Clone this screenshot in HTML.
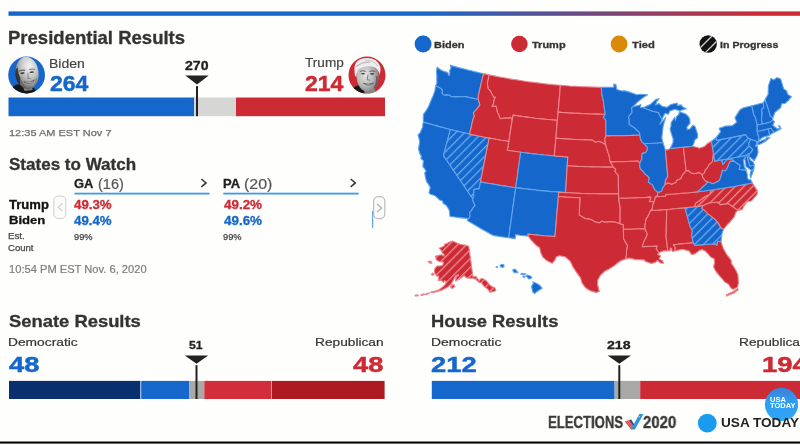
<!DOCTYPE html>
<html lang="en"><head><meta charset="utf-8"><title>Election Results 2020</title>
<style>
html,body{margin:0;padding:0;background:#fff}
#page{position:relative;width:800px;height:445px;overflow:hidden;background:#fefefd;font-family:"Liberation Sans", sans-serif}
#gfx{position:absolute;left:0;top:0}
#soft{position:absolute;left:0;top:0;width:800px;height:445px;filter:blur(0.45px)}
.t{position:absolute;white-space:nowrap;line-height:1;transform-origin:0 0;will-change:transform;-webkit-font-smoothing:antialiased}
.s{stroke-width:1.1}.s.b{stroke:#62a6ee}.s.r{stroke:#ec858c}
</style></head>
<body>
<div id="page"><div id="soft">
<svg id="gfx" width="800" height="445" viewBox="0 0 800 445">
<defs><linearGradient id="tg" x1="0" x2="1" y1="0" y2="0"><stop offset="0" stop-color="#1667cb"/><stop offset="0.52" stop-color="#1667cb"/><stop offset="0.95" stop-color="#cc2b35"/></linearGradient>
<pattern id="hb" width="6.2" height="6.2" patternUnits="userSpaceOnUse" patternTransform="rotate(-45)"><rect width="6.2" height="6.2" fill="#1667cb"/><rect width="6.2" height="1.3" fill="#66aaf0"/></pattern>
<pattern id="hr" width="6.2" height="6.2" patternUnits="userSpaceOnUse" patternTransform="rotate(-45)"><rect width="6.2" height="6.2" fill="#cc2b35"/><rect width="6.2" height="1.3" fill="#f08a90"/></pattern></defs>
<rect x="8.5" y="11.4" width="792" height="4.4" fill="url(#tg)"/>
<rect x="8.5" y="97.5" width="185.7" height="18.7" fill="#1667cb"/>
<rect x="194.2" y="97.5" width="42" height="18.7" fill="#d6d6d4"/>
<rect x="236" y="97.5" width="149" height="18.7" fill="#cc2b35"/>
<path d="M185.3,75.4 h23.4 l-11.7,9.2 z" fill="#222"/><rect x="196.00" y="86.1" width="2.0" height="30.1" fill="#222"/>
<defs><clipPath id="clipb"><circle cx="26.6" cy="75.0" r="18.4"/></clipPath><filter id="blb" x="-20%" y="-20%" width="140%" height="140%"><feGaussianBlur stdDeviation="0.75"/></filter><radialGradient id="gb" cx="0.62" cy="0.3" r="0.75"><stop offset="0" stop-color="#f3f3f3"/><stop offset="0.45" stop-color="#c9c9c9"/><stop offset="0.8" stop-color="#8e8e8e"/><stop offset="1" stop-color="#4e4e4e"/></radialGradient></defs><circle cx="26.6" cy="75.0" r="18.4" fill="#1667cb"/><g clip-path="url(#clipb)"><g filter="url(#blb)" transform="translate(26.6,75.0)"><path d="M-16,20 L-14,12 Q-10,8 -5,10 L7,13 Q10,15 10,20 Z" fill="#161616"/><path d="M-5,8 L5,9 L6,15 L-2,16 Z" fill="#7e7e7e"/><g transform="rotate(-7)"><ellipse cx="0.8" cy="-2.0" rx="11.4" ry="16.2" fill="url(#gb)"/><path d="M-10.6,-6 Q-12.5,3 -8,10 L-6.5,3 Q-8.5,-2 -8,-9 Z" fill="#2e2e2e" opacity="0.9"/><path d="M-7,-4.6 Q-4,-6 -1,-4.8" stroke="#666" stroke-width="1.1" fill="none"/><path d="M3,-4.8 Q6,-6 9,-4.4" stroke="#777" stroke-width="1.1" fill="none"/><ellipse cx="-3.8" cy="-2.4" rx="2.2" ry="0.9" fill="#3a3a3a"/><ellipse cx="5.4" cy="-2.2" rx="2.2" ry="0.9" fill="#444"/><path d="M1.6,-1.5 L1.0,3.6 L3.6,3.8" stroke="#858585" stroke-width="1" fill="none"/><path d="M-3.6,6.4 Q1.6,11.4 7,6.2 Q1.6,8.6 -3.6,6.4 Z" fill="#fafafa" stroke="#4a4a4a" stroke-width="0.7"/><path d="M-6.2,4.6 Q-5.6,9 -2.6,11.6" stroke="#5c5c5c" stroke-width="0.9" fill="none"/><path d="M9.2,4.4 Q9,8 6.6,10.8" stroke="#777" stroke-width="0.8" fill="none"/></g></g></g>
<defs><clipPath id="clipr"><circle cx="367.0" cy="75.1" r="18.5"/></clipPath><filter id="blr" x="-20%" y="-20%" width="140%" height="140%"><feGaussianBlur stdDeviation="0.75"/></filter><radialGradient id="gr" cx="0.4" cy="0.45" r="0.7"><stop offset="0" stop-color="#e6e6e6"/><stop offset="0.5" stop-color="#bcbcbc"/><stop offset="0.85" stop-color="#858585"/><stop offset="1" stop-color="#5a5a5a"/></radialGradient></defs><circle cx="367.0" cy="75.1" r="18.5" fill="#cc2b35"/><g clip-path="url(#clipr)"><g filter="url(#blr)" transform="translate(367.0,75.1)"><path d="M-16,20 L-14,13 Q-10,9 -6,11 L-1,18 L2,20 Z" fill="#151515"/><path d="M-4,10 L7,10 L9,20 L-2,20 Z" fill="#858585"/><ellipse cx="0.6" cy="1.5" rx="11.0" ry="15.0" fill="url(#gr)"/><path d="M-12.4,-3 Q-14,-15 -3,-16.8 Q10,-18.4 13.4,-8 Q14,-3.4 12.4,0 Q11.4,-7.4 5,-8.6 Q-3,-9.6 -8.6,-5.6 Q-10.6,-2.6 -10.8,2.4 Q-12.8,0.6 -12.4,-3 Z" fill="#ededed"/><path d="M-11,-8.4 Q-5,-13.4 3,-13" stroke="#b8b8b8" stroke-width="1.3" fill="none"/><path d="M-2,-15 Q6,-15.6 11,-9" stroke="#c6c6c6" stroke-width="1" fill="none"/><path d="M-7,-3.6 Q-4,-5 -1.2,-3.6" stroke="#6e6e6e" stroke-width="1.1" fill="none"/><path d="M2.4,-3.6 Q5.4,-5 8.4,-3.2" stroke="#6e6e6e" stroke-width="1.1" fill="none"/><ellipse cx="-4.0" cy="-1.4" rx="2.1" ry="0.8" fill="#444"/><ellipse cx="5.2" cy="-1.2" rx="2.1" ry="0.8" fill="#444"/><path d="M1.0,-0.4 L0.2,4.8 L3.2,5.0" stroke="#808080" stroke-width="1" fill="none"/><path d="M-3.6,8.2 Q1.2,12 6.4,8 Q1.2,10 -3.6,8.2 Z" fill="#f6f6f6" stroke="#4c4c4c" stroke-width="0.7"/><path d="M9.6,1 Q11,7 7.4,13" stroke="#606060" stroke-width="1.8" fill="none"/></g></g>
<rect x="74.5" y="192.7" width="135" height="1.8" fill="#3d9be3"/>
<rect x="223.4" y="192.7" width="135.3" height="1.8" fill="#3d9be3"/>
<path d="M201.4,179.0 l4.6,3.9 l-4.6,3.9" fill="none" stroke="#3a3a3a" stroke-width="1.6"/>
<path d="M350.7,179.0 l4.6,3.9 l-4.6,3.9" fill="none" stroke="#3a3a3a" stroke-width="1.6"/>
<rect x="53.8" y="196.0" width="12" height="22.6" rx="4.5" fill="#fbfbfb" stroke="#cfcfcf" stroke-width="1"/>
<path d="M62.3,203.5 l-4.2,3.8 l4.2,3.8" fill="none" stroke="#d2d2d2" stroke-width="1.2"/>
<rect x="372.2" y="211" width="1" height="17" fill="#4a8ad8"/>
<rect x="373.6" y="196.6" width="11.2" height="22.0" rx="4.5" fill="#fbfbfb" stroke="#bdbdbd" stroke-width="1.2"/>
<path d="M377.0,204.0 l4.6,4.0 l-4.6,4.0" fill="none" stroke="#b4b4b4" stroke-width="1.3"/>
<rect x="9" y="380.9" width="131.3" height="18.1" fill="#0a2f6e"/>
<rect x="140.2" y="380.9" width="1.1" height="18.1" fill="#8fb2e4"/>
<rect x="141.2" y="380.9" width="48" height="18.1" fill="#1667cb"/>
<rect x="189.2" y="380.9" width="15.1" height="18.1" fill="#a9a9a7"/>
<rect x="204.3" y="380.9" width="66.8" height="18.1" fill="#d22d3a"/>
<rect x="271.0" y="380.9" width="1.1" height="18.1" fill="#ee9aa0"/>
<rect x="272" y="380.9" width="112.6" height="18.1" fill="#ad1a22"/>
<path d="M184.8,355.4 h23.4 l-11.7,8.3 z" fill="#222"/><rect x="195.50" y="365.2" width="2.0" height="33.8" fill="#222"/>
<rect x="431.8" y="380.9" width="182.8" height="18.1" fill="#1667cb"/>
<rect x="614.6" y="380.9" width="25.6" height="18.1" fill="#a9a9a7"/>
<rect x="640.2" y="380.9" width="160" height="18.1" fill="#cc2b35"/>
<path d="M607.6,355.4 h23.4 l-11.7,8.3 z" fill="#222"/><rect x="618.30" y="365.2" width="2.0" height="33.8" fill="#222"/>
<circle cx="423.1" cy="44" r="8.5" fill="#1667cb"/>
<circle cx="519.4" cy="44" r="8.3" fill="#cc2b35"/>
<circle cx="619.1" cy="44" r="8.4" fill="#d98a06"/>
<defs><clipPath id="ipc"><circle cx="708.2" cy="44" r="8.7"/></clipPath></defs><circle cx="708.2" cy="44" r="8.7" fill="#111"/><g clip-path="url(#ipc)" stroke="#d0d0d0" stroke-width="1.3"><path d="M698,50 l14,-14 M704,54 l14,-14"/></g>
<g id="map" stroke-linejoin="round"><path class="s b" d="M450.2,65.3L453.2,66.1L456.2,66.9L459.2,67.7L462.2,68.5L465.3,69.3L468.3,70.1L471.3,70.8L474.4,71.6L477.4,72.3L480.4,73.0L483.5,73.6L482.5,78.1L481.4,82.5L480.4,86.9L479.4,91.3L478.3,95.8L478.3,99.5L475.1,98.8L471.9,98.1L468.8,97.4L465.6,96.6L463.5,96.8L459.3,96.7L455.7,96.9L451.3,96.7L449.5,95.2L447.1,94.9L444.4,95.2L441.9,93.6L442.3,90.0L440.5,88.4L438.3,87.0L435.6,86.1L436.9,83.0L436.8,80.2L436.8,76.0L436.4,71.3L437.2,67.1L440.4,69.7L444.0,71.4L447.9,72.6L448.3,74.8L449.1,75.5L449.9,73.4L449.6,70.6L451.1,67.8L450.2,65.3Z" fill="#1667cb"/>
<path class="s b" d="M435.6,86.1L438.3,87.0L440.5,88.4L442.3,90.0L441.9,93.6L444.4,95.2L447.1,94.9L449.5,95.2L451.3,96.7L455.7,96.9L459.3,96.7L463.5,96.8L465.6,96.6L468.8,97.4L471.9,98.1L475.1,98.8L478.3,99.5L479.1,102.0L480.0,104.9L477.8,107.6L476.4,109.6L473.4,112.6L473.9,114.8L474.4,116.0L473.3,118.3L472.0,123.5L470.8,128.8L469.6,134.1L465.8,133.2L461.9,132.3L458.1,131.4L454.2,130.5L450.4,129.5L447.0,128.7L443.6,127.8L440.2,126.9L436.8,125.9L433.4,125.0L430.1,124.0L426.7,123.1L423.4,122.1L423.2,118.3L423.4,114.3L426.3,110.4L428.8,106.0L431.1,100.2L433.3,95.3L434.9,90.7L435.6,86.1Z" fill="#1667cb"/>
<path class="s b" d="M423.4,122.1L426.7,123.1L430.1,124.0L433.4,125.0L436.8,125.9L440.2,126.9L443.6,127.8L447.0,128.7L450.4,129.5L449.2,133.8L448.1,138.2L447.0,142.5L445.8,146.8L444.7,151.2L443.5,155.5L446.1,159.4L448.7,163.3L451.4,167.2L454.1,171.1L456.8,175.0L459.9,179.8L463.1,184.5L466.3,189.3L469.5,194.0L472.8,198.7L472.8,200.1L473.6,202.5L475.2,205.5L473.7,206.9L471.1,211.1L469.5,212.6L470.2,216.1L468.9,218.6L468.1,218.5L463.6,218.1L459.1,217.6L454.5,217.0L450.0,216.5L449.6,213.5L449.3,210.2L447.4,207.0L445.3,204.4L443.2,203.7L442.7,201.1L439.5,199.9L438.0,198.4L435.2,195.8L430.0,194.0L429.0,192.6L430.2,187.6L429.0,185.0L426.5,181.6L425.3,176.6L424.7,172.7L426.1,171.3L425.1,169.5L422.9,166.7L423.0,163.9L423.5,160.8L420.9,158.6L421.3,156.0L419.6,153.1L418.6,149.1L419.0,145.5L419.7,142.0L419.0,138.5L418.0,135.0L420.1,132.8L421.2,130.3L422.7,127.0L422.8,124.2L423.4,122.1Z" fill="#1667cb"/>
<path class="s b" d="M450.4,129.5L454.2,130.5L458.1,131.4L461.9,132.3L465.8,133.2L469.6,134.1L473.5,134.9L477.4,135.8L481.3,136.5L485.2,137.3L489.1,138.1L488.3,142.5L487.4,146.8L486.5,151.2L485.7,155.6L484.8,160.0L483.9,164.4L483.1,168.8L482.2,173.2L481.3,177.6L480.5,181.9L479.1,189.0L476.5,188.9L473.9,189.6L473.8,193.4L473.6,197.0L472.8,198.7L469.5,194.0L466.3,189.3L463.1,184.5L459.9,179.8L456.8,175.0L454.1,171.1L451.4,167.2L448.7,163.3L446.1,159.4L443.5,155.5L444.7,151.2L445.8,146.8L447.0,142.5L448.1,138.2L449.2,133.8L450.4,129.5Z" fill="url(#hb)"/>
<path class="s r" d="M483.5,73.6L489.2,74.9L488.3,79.2L487.4,83.5L488.3,88.6L490.5,90.8L492.0,94.1L493.7,97.1L495.3,97.1L494.0,100.1L493.6,103.6L492.1,106.4L496.0,106.0L496.6,107.8L497.6,112.7L498.8,114.4L499.9,117.9L501.0,118.8L504.5,117.7L509.6,118.1L510.0,117.2L511.1,117.8L512.3,119.7L511.4,125.2L510.5,130.6L509.7,136.0L508.8,141.5L504.8,140.8L500.9,140.2L497.0,139.5L493.1,138.8L489.1,138.1L485.2,137.3L481.3,136.5L477.4,135.8L473.5,134.9L469.6,134.1L470.8,128.8L472.0,123.5L473.3,118.3L474.4,116.0L473.9,114.8L473.4,112.6L476.4,109.6L477.8,107.6L480.0,104.9L479.1,102.0L478.3,99.5L478.3,95.8L479.4,91.3L480.4,86.9L481.4,82.5L482.5,78.1L483.5,73.6Z" fill="#cc2b35"/>
<path class="s r" d="M489.2,74.9L492.2,75.5L495.2,76.1L498.1,76.7L501.1,77.2L504.1,77.8L507.0,78.3L510.0,78.9L513.0,79.4L516.0,79.8L519.0,80.3L522.0,80.8L525.0,81.2L528.2,81.7L531.4,82.1L534.6,82.5L537.8,82.9L541.1,83.3L544.3,83.7L547.5,84.1L550.7,84.4L554.0,84.7L557.2,85.0L560.4,85.3L560.0,89.7L559.7,94.2L559.3,98.7L558.9,103.1L558.5,107.6L558.1,112.1L557.4,120.4L554.2,120.1L551.0,119.8L547.9,119.5L544.7,119.2L541.5,118.9L538.3,118.5L535.2,118.2L532.0,117.8L528.8,117.4L525.7,116.9L522.5,116.5L519.4,116.1L516.2,115.6L513.1,115.1L512.3,119.7L511.1,117.8L510.0,117.2L509.6,118.1L504.5,117.7L501.0,118.8L499.9,117.9L498.8,114.4L497.6,112.7L496.6,107.8L496.0,106.0L492.1,106.4L493.6,103.6L494.0,100.1L495.3,97.1L493.7,97.1L492.0,94.1L490.5,90.8L488.3,88.6L487.4,83.5L488.3,79.2L489.2,74.9Z" fill="#cc2b35"/>
<path class="s r" d="M512.3,119.7L513.1,115.1L516.2,115.6L519.4,116.1L522.5,116.5L525.7,116.9L528.8,117.4L532.0,117.8L535.2,118.2L538.3,118.5L541.5,118.9L544.7,119.2L547.9,119.5L551.0,119.8L554.2,120.1L557.4,120.4L557.0,124.8L556.6,129.3L556.2,133.7L555.9,138.1L555.5,142.6L555.1,147.0L554.7,151.4L554.3,155.9L550.9,155.6L547.6,155.3L544.2,155.0L540.8,154.6L537.5,154.3L534.1,153.9L530.8,153.5L527.4,153.1L524.1,152.7L520.7,152.2L517.4,151.8L514.0,151.3L510.7,150.8L507.3,150.3L508.1,145.9L508.8,141.5L509.7,136.0L510.5,130.6L511.4,125.2L512.3,119.7Z" fill="#cc2b35"/>
<path class="s r" d="M489.1,138.1L493.1,138.8L497.0,139.5L500.9,140.2L504.8,140.8L508.8,141.5L508.1,145.9L507.3,150.3L510.7,150.8L514.0,151.3L517.4,151.8L520.7,152.2L520.1,156.6L519.5,161.1L518.8,165.5L518.2,169.9L517.6,174.4L517.0,178.8L516.3,183.2L515.7,187.7L512.2,187.2L508.6,186.7L505.1,186.1L501.6,185.6L498.1,185.0L494.5,184.4L491.0,183.8L487.5,183.2L484.0,182.6L480.5,181.9L481.3,177.6L482.2,173.2L483.1,168.8L483.9,164.4L484.8,160.0L485.7,155.6L486.5,151.2L487.4,146.8L488.3,142.5L489.1,138.1Z" fill="#cc2b35"/>
<path class="s b" d="M520.7,152.2L524.1,152.7L527.4,153.1L530.8,153.5L534.1,153.9L537.5,154.3L540.8,154.6L544.2,155.0L547.6,155.3L550.9,155.6L554.3,155.9L557.7,156.2L561.1,156.4L564.4,156.7L567.8,156.9L567.5,161.3L567.2,165.8L566.9,170.3L566.7,174.7L566.4,179.2L566.1,183.6L565.8,188.1L565.6,192.6L558.7,192.1L555.1,191.8L551.5,191.6L547.9,191.2L544.3,190.9L540.8,190.6L537.2,190.2L533.6,189.8L530.0,189.4L526.4,189.0L522.9,188.6L519.3,188.1L515.7,187.7L516.3,183.2L517.0,178.8L517.6,174.4L518.2,169.9L518.8,165.5L519.5,161.1L520.1,156.6L520.7,152.2Z" fill="#1667cb"/>
<path class="s b" d="M480.5,181.9L484.0,182.6L487.5,183.2L491.0,183.8L494.5,184.4L498.1,185.0L501.6,185.6L505.1,186.1L508.6,186.7L512.2,187.2L515.7,187.7L515.1,192.2L514.4,196.8L513.8,201.3L513.1,205.9L512.5,210.5L511.9,215.0L511.2,219.6L510.6,224.1L509.9,228.7L509.3,233.2L508.7,237.8L504.8,237.2L501.0,236.7L497.1,236.1L493.3,235.5L489.5,233.4L485.7,231.3L481.9,229.2L478.2,227.0L474.4,224.8L470.7,222.6L467.1,220.4L468.1,218.5L468.9,218.6L470.2,216.1L469.5,212.6L471.1,211.1L473.7,206.9L475.2,205.5L473.6,202.5L472.8,200.1L472.8,198.7L473.6,197.0L473.8,193.4L473.9,189.6L476.5,188.9L479.1,189.0L480.5,181.9Z" fill="#1667cb"/>
<path class="s b" d="M515.7,187.7L519.3,188.1L522.9,188.6L526.4,189.0L530.0,189.4L533.6,189.8L537.2,190.2L540.8,190.6L544.3,190.9L547.9,191.2L551.5,191.6L555.1,191.8L558.7,192.1L558.4,196.6L558.0,201.0L557.6,205.5L557.2,209.9L556.8,214.4L556.4,218.8L556.1,223.3L555.7,227.7L555.3,232.2L554.9,236.6L551.0,236.3L547.2,236.0L543.3,235.7L539.4,235.3L535.6,234.9L531.7,234.5L527.9,234.1L528.3,236.1L524.1,235.7L519.8,235.2L515.6,234.6L515.1,238.6L508.7,237.8L509.3,233.2L509.9,228.7L510.6,224.1L511.2,219.6L511.9,215.0L512.5,210.5L513.1,205.9L513.8,201.3L514.4,196.8L515.1,192.2L515.7,187.7Z" fill="#1667cb"/>
<path class="s r" d="M560.4,85.3L563.5,85.5L566.5,85.7L569.5,86.0L572.6,86.2L575.6,86.3L578.6,86.5L581.7,86.7L585.0,86.8L588.2,86.9L591.5,87.0L594.8,87.1L598.0,87.2L601.3,87.2L601.8,94.2L602.4,96.7L603.5,101.3L603.9,106.0L604.9,111.3L605.2,114.2L601.8,114.2L598.4,114.1L595.1,114.1L591.7,114.0L588.3,113.9L585.0,113.7L581.6,113.6L578.3,113.4L574.9,113.3L571.5,113.1L568.2,112.9L564.8,112.6L561.5,112.4L558.1,112.1L558.5,107.6L558.9,103.1L559.3,98.7L559.7,94.2L560.0,89.7L560.4,85.3Z" fill="#cc2b35"/>
<path class="s r" d="M558.1,112.1L561.5,112.4L564.8,112.6L568.2,112.9L571.5,113.1L574.9,113.3L578.3,113.4L581.6,113.6L585.0,113.7L588.3,113.9L591.7,114.0L595.1,114.1L598.4,114.1L601.8,114.2L605.2,114.2L603.3,117.2L605.8,119.9L605.8,125.2L605.8,130.5L605.8,135.9L604.8,139.4L605.7,144.9L604.1,143.9L602.4,142.8L599.5,141.4L595.5,142.2L592.3,140.1L588.9,140.0L585.6,139.9L582.3,139.8L579.0,139.6L575.7,139.5L572.4,139.3L569.1,139.1L565.8,138.9L562.5,138.6L559.2,138.4L555.9,138.1L556.2,133.7L556.6,129.3L557.0,124.8L557.4,120.4L558.1,112.1Z" fill="#cc2b35"/>
<path class="s r" d="M555.9,138.1L559.2,138.4L562.5,138.6L565.8,138.9L569.1,139.1L572.4,139.3L575.7,139.5L579.0,139.6L582.3,139.8L585.6,139.9L588.9,140.0L592.3,140.1L595.5,142.2L599.5,141.4L602.4,142.8L604.1,143.9L605.7,144.9L606.7,148.3L608.0,152.4L609.2,155.8L609.7,159.9L610.3,161.9L612.5,165.3L613.4,167.1L609.9,167.1L606.3,167.1L602.8,167.1L599.2,167.0L595.6,167.0L592.1,166.9L588.5,166.8L585.0,166.7L581.4,166.5L577.9,166.4L574.3,166.2L570.8,166.0L567.2,165.8L567.5,161.3L567.8,156.9L564.4,156.7L561.1,156.4L557.7,156.2L554.3,155.9L554.7,151.4L555.1,147.0L555.5,142.6L555.9,138.1Z" fill="#cc2b35"/>
<path class="s r" d="M567.2,165.8L570.8,166.0L574.3,166.2L577.9,166.4L581.4,166.5L585.0,166.7L588.5,166.8L592.1,166.9L595.6,167.0L599.2,167.0L602.8,167.1L606.3,167.1L609.9,167.1L613.4,167.1L615.9,169.3L614.9,171.1L616.3,173.3L618.3,175.0L618.4,179.7L618.4,184.4L618.5,189.1L618.6,193.8L614.8,193.9L611.0,193.9L607.2,193.9L603.4,193.9L599.6,193.9L595.8,193.8L592.0,193.7L588.3,193.6L584.5,193.5L580.7,193.4L576.9,193.2L573.1,193.0L569.3,192.8L565.6,192.6L565.8,188.1L566.1,183.6L566.4,179.2L566.7,174.7L566.9,170.3L567.2,165.8Z" fill="#cc2b35"/>
<path class="s r" d="M565.6,192.6L569.3,192.8L573.1,193.0L576.9,193.2L580.7,193.4L584.5,193.5L588.3,193.6L592.0,193.7L595.8,193.8L599.6,193.9L603.4,193.9L607.2,193.9L611.0,193.9L614.8,193.9L618.6,193.8L618.6,198.3L619.4,203.3L620.2,208.2L620.1,213.4L620.1,218.6L620.0,223.8L613.9,221.8L609.4,221.9L604.2,222.2L602.0,221.1L599.7,222.9L594.2,221.7L593.1,220.6L589.4,219.1L585.0,218.5L582.1,216.8L579.2,215.1L579.4,209.3L579.7,203.6L579.9,197.8L576.3,197.6L572.7,197.5L569.1,197.3L565.5,197.1L562.0,196.8L558.4,196.6L558.7,192.1L565.6,192.6Z" fill="#cc2b35"/>
<path class="s r" d="M558.4,196.6L562.0,196.8L565.5,197.1L569.1,197.3L572.7,197.5L576.3,197.6L579.9,197.8L579.7,203.6L579.4,209.3L579.2,215.1L582.1,216.8L585.0,218.5L589.4,219.1L593.1,220.6L594.2,221.7L599.7,222.9L602.0,221.1L604.2,222.2L609.4,221.9L613.9,221.8L620.0,223.8L623.3,224.6L623.4,229.3L623.5,233.9L623.6,238.4L625.4,241.9L627.6,245.6L626.5,250.8L626.5,255.2L625.6,258.9L621.3,260.5L618.1,262.5L614.2,265.8L608.7,269.2L605.1,270.9L600.3,275.5L597.8,280.1L597.5,284.5L599.3,291.6L596.4,292.6L590.3,290.8L585.8,288.0L582.2,283.3L580.5,277.9L576.0,271.6L573.0,267.0L570.1,261.1L565.2,256.8L559.4,255.8L556.4,256.8L554.8,260.2L552.2,263.3L548.0,261.2L545.7,259.7L543.0,257.4L540.8,252.8L539.7,247.8L536.1,245.3L530.5,239.3L528.3,236.1L527.9,234.1L531.7,234.5L535.6,234.9L539.4,235.3L543.3,235.7L547.2,236.0L551.0,236.3L554.9,236.6L555.3,232.2L555.7,227.7L556.1,223.3L556.4,218.8L556.8,214.4L557.2,209.9L557.6,205.5L558.0,201.0L558.4,196.6Z" fill="#cc2b35"/>
<path class="s b" d="M601.3,87.2L604.4,87.3L607.5,87.3L610.7,87.3L613.8,87.3L613.8,83.9L615.9,84.6L616.8,89.4L622.0,91.1L624.4,90.6L629.9,92.2L633.3,93.5L636.7,94.8L640.6,94.3L644.2,94.5L647.7,94.8L643.6,97.2L640.6,99.6L637.7,101.9L632.9,106.8L631.8,107.4L632.0,112.6L628.4,116.9L629.3,119.5L629.2,124.4L632.5,126.5L635.1,128.2L636.8,130.3L639.5,132.4L639.9,135.1L636.5,135.3L633.0,135.4L629.6,135.5L626.2,135.6L622.8,135.7L619.4,135.8L616.0,135.8L612.6,135.8L609.2,135.9L605.8,135.9L605.8,130.5L605.8,125.2L605.8,119.9L603.3,117.2L605.2,114.2L604.9,111.3L603.9,106.0L603.5,101.3L602.4,96.7L601.8,94.2L601.3,87.2Z" fill="#1667cb"/>
<path class="s r" d="M605.8,135.9L609.2,135.9L612.6,135.8L616.0,135.8L619.4,135.8L622.8,135.7L626.2,135.6L629.6,135.5L633.0,135.4L636.5,135.3L639.9,135.1L640.5,139.1L642.3,142.1L644.1,143.7L647.4,147.2L647.6,149.4L645.6,152.6L642.0,153.6L641.9,159.1L639.9,163.0L637.7,161.0L634.3,161.2L630.9,161.3L627.4,161.5L624.0,161.6L620.6,161.7L617.1,161.8L613.7,161.9L610.3,161.9L609.7,159.9L609.2,155.8L608.0,152.4L606.7,148.3L605.7,144.9L604.8,139.4L605.8,135.9Z" fill="#cc2b35"/>
<path class="s r" d="M610.3,161.9L613.7,161.9L617.1,161.8L620.6,161.7L624.0,161.6L627.4,161.5L630.9,161.3L634.3,161.2L637.7,161.0L639.9,163.0L639.9,167.0L640.6,169.0L642.9,171.1L645.5,174.6L647.3,175.4L649.3,178.1L648.4,182.0L651.0,183.9L652.3,184.5L654.8,189.7L657.8,192.4L657.5,195.8L655.4,196.8L654.9,199.1L654.3,201.4L649.4,201.7L650.8,197.1L646.7,197.4L642.7,197.6L638.7,197.7L634.7,197.9L630.7,198.0L626.7,198.2L622.6,198.3L618.6,198.3L618.6,193.8L618.5,189.1L618.4,184.4L618.4,179.7L618.3,175.0L616.3,173.3L614.9,171.1L615.9,169.3L613.4,167.1L612.5,165.3L610.3,161.9Z" fill="#cc2b35"/>
<path class="s r" d="M618.6,198.3L622.6,198.3L626.7,198.2L630.7,198.0L634.7,197.9L638.7,197.7L642.7,197.6L646.7,197.4L650.8,197.1L649.4,201.7L654.3,201.4L652.7,205.5L652.1,209.3L650.5,210.6L648.7,215.0L646.2,218.9L645.3,223.4L645.0,225.2L645.0,228.7L640.7,228.9L636.4,229.0L632.1,229.2L627.8,229.3L623.4,229.3L623.3,224.6L620.0,223.8L620.1,218.6L620.1,213.4L620.2,208.2L619.4,203.3L618.6,198.3Z" fill="#cc2b35"/>
<path class="s r" d="M623.4,229.3L627.8,229.3L632.1,229.2L636.4,229.0L640.7,228.9L645.0,228.7L647.4,234.4L646.0,237.6L643.8,241.7L642.4,246.7L647.3,246.4L652.2,246.2L657.1,245.9L656.3,249.0L659.2,253.0L657.5,254.3L660.7,255.9L659.0,259.1L662.2,260.6L663.6,263.2L660.8,263.0L657.1,260.5L656.0,261.9L651.4,263.5L645.7,261.6L644.1,259.9L640.1,259.7L635.4,259.6L629.9,258.1L625.6,258.9L626.5,255.2L626.5,250.8L627.6,245.6L625.4,241.9L623.6,238.4L623.5,233.9L623.4,229.3Z" fill="#cc2b35"/>
<path class="s r" d="M665.9,209.5L662.0,209.8L658.2,210.1L654.3,210.3L650.5,210.6L648.7,215.0L646.2,218.9L645.3,223.4L645.0,225.2L645.0,228.7L647.4,234.4L646.0,237.6L643.8,241.7L642.4,246.7L647.3,246.4L652.2,246.2L657.1,245.9L656.3,249.0L659.2,253.0L660.4,251.9L663.9,250.8L667.8,250.9L667.2,246.3L666.7,241.8L666.1,237.2L666.2,232.7L666.3,228.3L666.4,223.8L666.5,219.3L666.6,214.8L666.7,210.3L665.9,209.5Z" fill="#cc2b35"/>
<path class="s r" d="M665.9,209.5L669.7,209.2L673.5,208.8L677.3,208.5L681.1,208.1L684.9,207.7L686.2,212.4L687.5,217.0L688.8,221.6L690.1,226.3L692.5,231.1L691.6,235.7L693.4,242.6L689.4,243.1L685.5,243.5L681.5,243.9L677.5,244.3L673.5,244.6L675.3,247.6L674.7,251.0L672.1,251.4L671.5,248.4L670.3,248.0L670.1,250.7L667.8,250.9L667.2,246.3L666.7,241.8L666.1,237.2L666.2,232.7L666.3,228.3L666.4,223.8L666.5,219.3L666.6,214.8L666.7,210.3L665.9,209.5Z" fill="#cc2b35"/>
<path class="s r" d="M674.7,251.0L675.3,247.6L673.5,244.6L677.5,244.3L681.5,243.9L685.5,243.5L689.4,243.1L693.4,242.6L694.8,245.2L698.9,244.9L703.1,244.6L707.2,244.3L711.3,244.0L715.4,243.7L716.9,245.3L717.4,241.3L721.0,241.6L722.1,245.1L723.3,248.5L726.6,254.3L731.2,260.3L731.3,263.4L733.9,267.0L736.3,271.1L737.9,274.8L738.5,283.0L737.4,287.3L733.1,289.4L730.8,287.9L728.6,284.3L724.4,281.8L722.4,279.0L719.9,276.3L716.9,272.7L714.9,269.8L713.6,266.9L714.6,262.3L714.1,258.8L710.6,257.0L707.3,253.0L704.6,250.7L702.1,249.6L699.5,250.4L694.8,253.9L691.7,254.6L688.9,250.9L682.5,249.3L677.1,250.4L674.7,251.0ZM737.6,288.6L733.5,291.5L726.4,294.8L726.6,296.1L733.7,293.1L738.2,289.9Z" fill="#cc2b35"/>
<path class="s b" d="M684.9,207.7L689.5,207.2L694.2,206.7L698.6,206.1L703.0,205.5L701.6,208.4L704.1,209.9L708.0,213.9L713.3,217.9L717.5,221.9L721.2,228.1L723.5,229.3L722.0,233.4L721.5,237.1L721.0,241.6L717.4,241.3L716.9,245.3L715.4,243.7L711.3,244.0L707.2,244.3L703.1,244.6L698.9,244.9L694.8,245.2L693.4,242.6L691.6,235.7L692.5,231.1L690.1,226.3L688.8,221.6L687.5,217.0L686.2,212.4L684.9,207.7Z" fill="url(#hb)"/>
<path class="s r" d="M703.0,205.5L708.6,202.9L713.2,202.5L717.7,202.0L718.0,202.9L718.7,202.3L720.2,204.6L724.2,204.1L728.3,203.5L733.1,206.9L737.9,210.3L735.7,212.6L734.2,217.0L729.8,222.2L726.2,226.0L724.6,228.0L723.5,229.3L721.2,228.1L717.5,221.9L713.3,217.9L708.0,213.9L704.1,209.9L701.6,208.4L703.0,205.5Z" fill="#cc2b35"/>
<path class="s r" d="M711.2,190.0L715.0,189.5L718.7,188.9L722.5,188.3L726.2,187.7L730.0,187.1L733.7,186.5L737.4,185.8L741.2,185.1L744.9,184.4L748.6,183.7L752.3,183.0L757.2,190.6L757.4,194.0L754.4,197.5L751.3,201.0L747.2,201.6L743.6,206.6L742.3,209.6L737.9,210.3L733.1,206.9L728.3,203.5L724.2,204.1L720.2,204.6L718.7,202.3L718.0,202.9L717.7,202.0L713.2,202.5L708.6,202.9L703.0,205.5L698.6,206.1L694.2,206.7L696.1,202.8L699.5,200.8L702.1,198.7L705.4,196.2L709.6,194.5L711.2,190.0Z" fill="url(#hr)"/>
<path class="s r" d="M655.4,196.8L660.6,196.5L665.7,196.1L665.5,194.5L669.3,194.2L673.0,194.0L676.8,193.7L680.8,193.4L684.9,193.0L688.9,192.7L692.9,192.3L697.0,191.9L700.5,191.4L704.1,191.0L707.7,190.5L711.2,190.0L709.6,194.5L705.4,196.2L702.1,198.7L699.5,200.8L696.1,202.8L694.2,206.7L689.5,207.2L684.9,207.7L681.1,208.1L677.3,208.5L673.5,208.8L669.7,209.2L665.9,209.5L662.0,209.8L658.2,210.1L654.3,210.3L650.5,210.6L652.1,209.3L652.7,205.5L654.3,201.4L654.9,199.1L655.4,196.8Z" fill="#cc2b35"/>
<path class="s r" d="M657.8,192.4L661.5,191.3L662.3,188.3L664.3,185.4L665.0,184.4L668.1,182.7L671.5,184.2L675.7,182.6L676.8,180.2L680.5,178.8L682.7,174.4L686.2,170.7L688.4,170.4L690.8,172.8L694.1,173.8L699.2,172.4L702.3,174.7L702.7,177.1L705.3,180.8L707.9,181.9L705.9,184.4L703.3,186.5L700.8,189.1L697.0,191.9L692.9,192.3L688.9,192.7L684.9,193.0L680.8,193.4L676.8,193.7L673.0,194.0L669.3,194.2L665.5,194.5L665.7,196.1L660.6,196.5L655.4,196.8L657.5,195.8L657.8,192.4Z" fill="#cc2b35"/>
<path class="s b" d="M644.1,143.7L647.9,143.5L651.7,143.3L655.4,143.0L659.2,142.8L662.9,142.5L664.7,147.9L665.3,149.2L665.8,154.5L666.3,159.7L666.8,165.0L667.2,170.3L667.8,176.3L665.5,180.4L665.0,184.4L664.3,185.4L662.3,188.3L661.5,191.3L657.8,192.4L654.8,189.7L652.3,184.5L651.0,183.9L648.4,182.0L649.3,178.1L647.3,175.4L645.5,174.6L642.9,171.1L640.6,169.0L639.9,167.0L639.9,163.0L641.9,159.1L642.0,153.6L645.6,152.6L647.6,149.4L647.4,147.2L644.1,143.7Z" fill="#1667cb"/>
<path class="s r" d="M665.3,149.2L666.9,150.0L669.5,148.9L670.0,148.5L673.4,148.1L676.7,147.8L680.0,147.4L683.4,147.1L683.9,151.8L684.5,156.5L685.0,161.2L685.6,165.9L686.2,170.7L682.7,174.4L680.5,178.8L676.8,180.2L675.7,182.6L671.5,184.2L668.1,182.7L665.0,184.4L665.5,180.4L667.8,176.3L667.2,170.3L666.8,165.0L666.3,159.7L665.8,154.5L665.3,149.2Z" fill="#cc2b35"/>
<path class="s r" d="M683.4,147.1L687.9,146.6L692.4,146.2L695.6,147.0L697.3,147.2L699.2,148.3L704.4,146.6L707.3,143.7L709.7,142.2L711.5,141.2L712.5,147.1L713.5,153.0L712.9,158.2L712.5,161.7L708.9,164.9L708.4,166.2L707.3,167.9L704.9,170.5L704.5,172.8L702.3,174.7L699.2,172.4L694.1,173.8L690.8,172.8L688.4,170.4L686.2,170.7L685.6,165.9L685.0,161.2L684.5,156.5L683.9,151.8L683.4,147.1Z" fill="#cc2b35"/>
<path class="s b" d="M632.9,106.8L638.5,105.4L640.9,104.4L640.4,107.5L643.4,107.6L647.7,109.3L651.9,111.0L655.1,111.8L658.4,112.5L660.7,117.2L662.1,119.3L660.0,124.4L662.3,121.5L665.8,117.4L664.1,122.7L663.1,126.4L662.6,131.3L661.8,137.7L662.9,142.5L659.2,142.8L655.4,143.0L651.7,143.3L647.9,143.5L644.1,143.7L642.3,142.1L640.5,139.1L639.9,135.1L639.5,132.4L636.8,130.3L635.1,128.2L632.5,126.5L629.2,124.4L629.3,119.5L628.4,116.9L632.0,112.6L631.8,107.4L632.9,106.8Z" fill="#1667cb"/>
<path class="s b" d="M643.4,107.6L646.8,106.1L650.2,104.6L652.5,102.4L656.0,99.3L659.3,98.7L656.8,101.6L655.5,105.0L658.9,103.6L662.2,106.4L667.0,107.2L670.9,104.5L674.1,103.7L677.2,103.0L677.2,105.4L681.2,104.9L683.1,107.3L686.4,108.7L684.6,109.2L679.6,110.7L674.8,109.3L669.9,111.0L668.3,114.3L665.1,113.3L663.4,116.1L662.1,119.3L660.7,117.2L658.4,112.5L655.1,111.8L651.9,111.0L647.7,109.3L643.4,107.6ZM670.0,148.5L671.8,145.2L673.0,142.4L673.2,139.1L671.8,135.1L670.0,128.9L671.0,126.1L671.1,122.7L674.7,117.2L675.4,120.7L676.8,115.9L678.6,115.0L679.6,111.5L681.4,112.4L685.8,114.0L688.6,116.8L689.7,119.0L690.1,123.2L686.9,127.0L687.3,129.8L690.1,128.8L693.0,125.1L695.2,126.8L697.6,134.1L697.6,137.7L695.5,139.3L694.4,140.6L694.0,143.1L692.4,146.2L687.9,146.6L683.4,147.1L680.0,147.4L676.7,147.8L673.4,148.1L670.0,148.5Z" fill="#1667cb"/>
<path class="s r" d="M707.9,181.9L713.3,183.7L719.6,180.4L721.0,176.1L722.5,170.4L725.8,170.8L727.6,167.3L730.1,161.4L734.5,161.3L730.6,158.7L726.9,159.7L722.7,164.5L721.9,159.9L718.3,160.5L714.8,161.1L713.5,153.0L712.9,158.2L712.5,161.7L708.9,164.9L708.4,166.2L707.3,167.9L704.9,170.5L704.5,172.8L702.3,174.7L702.7,177.1L705.3,180.8L707.9,181.9Z" fill="#cc2b35"/>
<path class="s b" d="M707.9,181.9L713.3,183.7L719.6,180.4L721.0,176.1L722.5,170.4L725.8,170.8L727.6,167.3L730.1,161.4L734.5,161.3L736.4,162.9L740.0,164.9L740.2,165.8L739.2,169.2L742.0,169.6L746.2,170.1L746.6,171.8L747.4,174.9L747.3,177.6L748.5,179.7L750.7,179.8L752.3,183.0L748.6,183.7L744.9,184.4L741.2,185.1L737.4,185.8L733.7,186.5L730.0,187.1L726.2,187.7L722.5,188.3L718.7,188.9L715.0,189.5L711.2,190.0L707.7,190.5L704.1,191.0L700.5,191.4L697.0,191.9L700.8,189.1L703.3,186.5L705.9,184.4L707.9,181.9ZM753.8,169.1L752.3,173.8L750.6,178.1L750.0,174.8L751.2,170.4L753.8,169.1Z" fill="#1667cb"/>
<path class="s b" d="M746.8,155.1L743.3,155.9L739.7,156.6L736.1,157.3L732.6,158.0L729.0,158.7L725.4,159.3L721.9,159.9L722.7,164.5L726.9,159.7L730.6,158.7L734.5,161.3L736.4,162.9L740.0,164.9L740.2,165.8L739.2,169.2L742.0,169.6L746.2,170.1L744.3,166.8L743.8,162.8L743.2,160.2L745.4,157.0L744.8,159.4L745.7,163.3L746.0,166.5L749.0,168.6L751.2,170.4L753.8,169.1L754.3,165.2L749.8,166.0L748.3,160.6L746.8,155.1Z" fill="#1667cb"/>
<path class="s b" d="M749.2,153.9L748.7,157.2L750.7,160.4L753.3,162.3L754.3,165.2L749.8,166.0L748.3,160.6L746.8,155.1L747.9,153.9L749.2,153.9Z" fill="#1667cb"/>
<path class="s b" d="M711.5,141.2L714.1,139.2L716.0,137.8L716.4,140.2L720.1,139.6L723.7,138.9L727.3,138.3L730.9,137.6L734.5,136.9L738.1,136.1L741.7,135.4L745.3,134.6L745.7,135.0L748.0,137.7L750.8,139.3L748.8,143.3L748.8,145.7L752.8,149.4L750.9,152.6L749.2,153.9L747.9,153.9L746.8,155.1L743.3,155.9L739.7,156.6L736.1,157.3L732.6,158.0L729.0,158.7L725.4,159.3L721.9,159.9L718.3,160.5L714.8,161.1L713.5,153.0L712.5,147.1L711.5,141.2Z" fill="url(#hb)"/>
<path class="s b" d="M756.8,141.2L756.6,144.0L755.5,146.1L757.3,146.1L758.1,152.4L756.8,156.3L754.2,160.8L751.7,158.4L748.8,156.7L749.2,153.9L750.9,152.6L752.8,149.4L748.8,145.7L748.8,143.3L750.8,139.3L756.8,141.2Z" fill="#1667cb"/>
<path class="s b" d="M716.0,137.8L720.7,131.7L719.1,128.3L722.4,127.2L725.6,126.1L728.9,125.9L732.2,125.7L736.8,122.3L734.9,117.7L736.6,115.1L740.0,109.8L743.5,107.7L747.7,106.7L751.8,105.7L752.8,110.1L753.7,114.4L755.5,117.7L757.2,125.0L757.2,131.5L758.9,137.9L758.5,140.8L757.9,142.3L756.8,141.2L750.8,139.3L748.0,137.7L745.7,135.0L745.3,134.6L741.7,135.4L738.1,136.1L734.5,136.9L730.9,137.6L727.3,138.3L723.7,138.9L720.1,139.6L716.4,140.2L716.0,137.8ZM756.8,144.9L758.1,142.3L762.2,140.4L765.4,139.3L767.0,137.4L770.0,137.3L766.4,140.5L761.6,143.5L757.4,145.0Z" fill="#1667cb"/>
<path class="s b" d="M751.8,105.7L755.7,104.8L759.5,103.8L763.3,102.8L763.8,107.3L761.5,109.8L762.1,113.3L761.5,118.9L762.4,124.0L757.2,125.0L755.5,117.7L753.7,114.4L752.8,110.1L751.8,105.7Z" fill="#1667cb"/>
<path class="s b" d="M763.3,102.8L765.2,99.6L766.7,104.3L768.3,108.9L770.3,115.8L772.8,118.1L772.5,120.1L769.9,122.3L766.1,123.2L762.4,124.0L761.5,118.9L762.1,113.3L761.5,109.8L763.8,107.3L763.3,102.8Z" fill="#1667cb"/>
<path class="s b" d="M765.2,99.6L768.1,94.3L768.2,91.0L768.4,85.9L771.1,78.2L773.7,80.0L776.9,77.6L780.6,79.0L782.2,84.0L783.7,88.9L786.5,90.8L787.9,94.6L791.5,96.7L788.5,100.4L785.4,103.2L781.5,103.9L780.7,107.7L776.8,110.8L774.7,112.7L772.8,118.1L770.3,115.8L768.3,108.9L766.7,104.3L765.2,99.6Z" fill="#1667cb"/>
<path class="s b" d="M757.2,125.0L762.4,124.0L766.1,123.2L769.9,122.3L772.5,120.1L774.5,121.6L772.7,125.3L775.8,127.7L777.2,128.9L779.7,128.2L779.3,126.5L778.3,125.9L779.7,125.8L781.1,128.8L776.8,131.1L773.9,132.4L772.9,131.0L771.0,128.3L768.3,129.0L764.6,129.9L760.9,130.7L757.2,131.5L757.2,125.0Z" fill="#1667cb"/>
<path class="s b" d="M768.3,129.0L771.0,128.3L772.9,131.0L773.9,132.4L772.2,133.3L769.5,135.2L768.3,129.0Z" fill="#1667cb"/>
<path class="s b" d="M757.2,131.5L760.9,130.7L764.6,129.9L768.3,129.0L769.5,135.2L766.2,136.2L762.8,137.3L758.5,140.8L758.9,137.9L757.2,131.5Z" fill="#1667cb"/>
<path class="s r" d="M495.8,290.5L494.8,287.6L493.5,287.2L492.3,286.7L491.0,286.2L489.5,284.5L488.0,282.8L486.6,281.1L485.5,280.3L484.3,279.5L483.2,278.7L482.4,278.7L481.6,278.7L480.7,278.7L480.1,279.7L479.5,280.8L478.3,279.3L477.1,277.9L476.0,276.4L475.0,276.6L474.0,276.8L473.0,276.9L472.8,275.2L472.5,273.5L472.3,271.8L472.0,270.1L471.8,268.4L471.6,266.7L471.3,265.0L471.1,263.3L470.9,261.6L470.6,259.9L470.4,258.2L470.2,256.5L469.9,254.8L469.7,253.1L469.5,251.4L469.2,249.7L469.0,248.0L468.8,246.4L468.2,246.1L467.6,245.9L467.1,245.7L466.5,245.4L465.9,245.2L465.4,245.1L464.8,245.1L464.3,245.0L463.7,245.0L463.2,244.9L462.7,244.8L462.1,244.7L461.6,244.6L461.0,244.6L460.5,244.5L460.0,244.3L459.4,244.1L458.9,243.8L458.4,243.6L457.8,243.4L457.3,243.2L456.8,242.9L456.3,242.7L455.8,242.5L455.3,242.3L454.8,242.1L454.3,241.9L453.8,241.6L453.3,241.4L452.8,241.2L452.3,240.9L451.7,241.2L451.2,241.4L450.6,241.6L450.1,241.8L449.5,242.0L449.0,242.2L448.4,242.5L447.8,242.9L447.2,243.2L446.6,243.5L446.0,243.8L445.4,244.0L444.7,244.3L444.3,245.9L443.6,246.2L442.9,246.5L442.2,246.9L441.5,247.2L440.8,247.5L440.1,247.8L439.3,248.1L439.9,248.8L440.4,249.5L440.9,250.2L441.5,250.8L441.8,251.9L442.2,253.0L442.8,253.4L443.4,253.7L444.0,254.1L444.1,256.1L443.4,255.8L442.7,255.4L442.1,255.0L441.4,254.7L440.7,254.9L439.9,255.1L439.1,255.3L438.4,255.5L437.6,255.7L436.8,255.8L436.0,256.0L435.2,256.2L435.7,257.4L436.1,258.7L436.6,260.0L437.4,260.5L438.2,260.9L438.9,261.2L439.7,261.5L440.4,261.7L441.1,262.0L441.9,262.0L442.8,262.0L443.6,262.0L443.2,263.6L442.7,265.2L441.8,265.5L440.8,265.8L439.9,266.1L439.0,266.0L438.1,266.0L437.2,265.9L435.7,267.5L434.4,269.5L434.6,271.5L434.9,273.4L435.5,274.4L436.1,275.3L436.7,276.2L437.7,276.1L438.8,276.0L438.6,279.0L438.2,280.4L439.2,280.4L440.2,280.4L441.3,280.4L442.0,281.0L442.8,281.7L443.6,282.3L444.3,280.7L445.3,281.1L446.3,281.5L445.6,283.9L444.5,285.4L443.5,286.3L442.4,287.1L441.4,287.9L440.3,288.7L439.2,289.5L438.2,289.9L437.2,290.3L436.1,290.7L435.1,291.0L434.0,291.4L432.8,291.7L431.6,291.9L430.4,292.2L431.8,292.4L433.2,292.5L434.5,292.3L435.8,292.0L436.9,291.7L437.9,291.4L438.9,291.1L439.9,290.8L440.9,290.5L442.0,290.0L443.0,289.5L444.0,289.0L445.0,288.5L446.0,287.9L446.9,287.4L448.1,286.6L449.2,285.7L450.3,284.8L451.3,284.0L452.2,282.2L453.1,280.5L454.3,278.3L455.5,276.0L456.4,275.5L457.4,275.0L458.3,274.5L458.6,275.4L457.5,275.9L456.4,276.4L456.0,278.2L455.6,280.0L455.4,281.0L456.4,280.5L457.4,280.1L458.3,279.6L459.3,279.2L460.1,278.6L461.0,278.1L461.8,277.5L462.6,276.9L463.4,276.2L464.1,275.5L465.5,277.0L466.4,277.4L467.4,277.9L468.3,278.3L469.2,278.3L470.0,278.3L470.8,278.3L471.6,278.2L472.4,278.2L473.4,278.5L474.3,278.8L475.3,279.2L476.3,280.0L477.3,280.8L478.3,281.7L479.3,282.5L480.4,282.6L481.5,282.8L483.3,285.5L484.5,286.7L486.1,287.9L487.7,289.1L488.9,290.7L490.1,292.3L491.1,292.1L492.1,291.8L493.1,291.6L494.1,291.3L495.0,290.9L495.8,290.5ZM450.4,286.8L451.8,285.0L452.9,284.9L454.1,284.8L454.7,286.5L453.5,287.6L452.3,288.7L451.3,287.7L450.4,286.8ZM425.3,294.5L427.1,293.3L428.4,293.2L429.6,293.0L428.2,293.8L426.7,294.6ZM420.7,295.1L421.9,294.5L423.2,293.9L424.7,294.3L423.3,294.9L421.8,295.5ZM415.0,295.2L416.3,295.0L417.6,294.8L418.3,295.7L416.9,295.9L415.5,296.1ZM428.1,261.3L429.0,261.3L429.9,261.3L430.8,261.2L431.4,262.1L432.0,263.0L431.0,263.2L430.1,263.4L429.4,262.7L428.7,262.0ZM432.5,273.1L433.8,273.8L433.2,275.3L432.3,274.9L431.3,274.5Z" fill="url(#hr)"/>
<path class="s b" d="M532.8,281.7L535.8,282.9L539.7,285.3L542.2,288.2L536.3,292.0L534.8,293.6L532.7,292.0L531.5,286.2L533.4,283.6ZM526.0,275.9L527.0,275.0L529.8,275.7L531.9,277.2L531.1,278.5L528.4,278.9L527.7,277.2L526.2,276.6ZM520.9,274.4L521.3,273.3L525.8,273.7L524.7,274.8ZM523.0,275.9L525.0,276.6L524.3,277.6L523.0,276.8ZM512.6,270.1L515.2,269.0L517.9,272.6L515.4,272.6L514.0,272.6ZM500.0,265.7L501.5,264.3L503.9,264.8L504.0,266.8L502.7,267.5L500.6,266.8ZM496.0,267.3L497.4,266.3L497.2,267.6Z" fill="#1667cb"/></g>
<circle cx="707.3" cy="423.2" r="9.4" fill="#199bf0"/>
<g><path d="M624.8,421.6 l4.4,-1.7 l5.6,8.0 l-3.6,1.6z" fill="#d8404a"/><path d="M626.3,421.0 l5.9,8.0 M627.8,420.4 l5.8,7.8" stroke="#f3b4b8" stroke-width="0.5" fill="none"/><path d="M629.2,419.9 l1.9,-0.5 l4.6,7.6 l-0.9,0.9z" fill="#1f3f78"/><path d="M631.0,429.5 l3.9,0 l8.6,-15.5 l-4.2,0z" fill="#2c97dd"/><circle cx="639.2" cy="416.6" r="0.7" fill="#d9efff"/></g>
<defs><linearGradient id="bdg" x1="0" x2="0" y1="0" y2="1"><stop offset="0" stop-color="#3d80d4"/><stop offset="0.4" stop-color="#2f9bf0"/><stop offset="1" stop-color="#2ea6f7"/></linearGradient></defs><circle cx="781.5" cy="404.4" r="16.6" fill="url(#bdg)"/>
<rect x="0" y="441.5" width="800" height="2.1" fill="#050505"/>
</svg>
<div class="t" style="left:8.41px;top:28.58px;font-size:18.16px;font-weight:700;color:#333333;-webkit-text-stroke:0.30px #333333;transform:scaleX(1.0202)">Presidential Results</div>
<div class="t" style="left:49.26px;top:57.64px;font-size:12.11px;font-weight:400;color:#444;-webkit-text-stroke:0.20px #444;transform:scaleX(1.1540)">Biden</div>
<div class="t" style="left:49.91px;top:72.50px;font-size:21.86px;font-weight:700;color:#1667cb;-webkit-text-stroke:0.50px #1667cb;transform:scaleX(1.0503)">264</div>
<div class="t" style="left:185.10px;top:60.43px;font-size:12.09px;font-weight:700;color:#222;-webkit-text-stroke:0.30px #222;transform:scaleX(1.1650)">270</div>
<div class="t" style="left:305.01px;top:57.04px;font-size:12.81px;font-weight:400;color:#444;-webkit-text-stroke:0.20px #444;transform:scaleX(1.0620)">Trump</div>
<div class="t" style="left:305.21px;top:72.50px;font-size:21.86px;font-weight:700;color:#cc2b35;-webkit-text-stroke:0.50px #cc2b35;transform:scaleX(1.0530)">214</div>
<div class="t" style="left:8.63px;top:128.43px;font-size:9.86px;font-weight:400;color:#6e6e6e;-webkit-text-stroke:0.25px #6e6e6e;transform:scaleX(1.1174)">12:35 AM EST Nov 7</div>
<div class="t" style="left:8.78px;top:156.22px;font-size:16.11px;font-weight:700;color:#333333;-webkit-text-stroke:0.30px #333333;transform:scaleX(1.0574)">States to Watch</div>
<div class="t" style="left:74.30px;top:177.99px;font-size:12.37px;font-weight:700;color:#222;-webkit-text-stroke:0.30px #222;transform:scaleX(1.0434)">GA</div>
<div class="t" style="left:97.81px;top:176.62px;font-size:14.03px;font-weight:400;color:#555;-webkit-text-stroke:0.20px #555;transform:scaleX(1.0334)">(16)</div>
<div class="t" style="left:223.09px;top:177.99px;font-size:12.37px;font-weight:700;color:#222;-webkit-text-stroke:0.30px #222;transform:scaleX(1.0498)">PA</div>
<div class="t" style="left:244.12px;top:176.62px;font-size:14.03px;font-weight:400;color:#555;-webkit-text-stroke:0.20px #555;transform:scaleX(1.1383)">(20)</div>
<div class="t" style="left:9.19px;top:199.13px;font-size:12.09px;font-weight:700;color:#111;-webkit-text-stroke:0.30px #111;transform:scaleX(1.0811)">Trump</div>
<div class="t" style="left:8.54px;top:214.97px;font-size:11.45px;font-weight:700;color:#111;-webkit-text-stroke:0.30px #111;transform:scaleX(1.1424)">Biden</div>
<div class="t" style="left:74.49px;top:199.65px;font-size:11.94px;font-weight:700;color:#cc2b35;-webkit-text-stroke:0.30px #cc2b35;transform:scaleX(1.1117)">49.3%</div>
<div class="t" style="left:74.49px;top:215.65px;font-size:11.94px;font-weight:700;color:#1667cb;-webkit-text-stroke:0.30px #1667cb;transform:scaleX(1.1117)">49.4%</div>
<div class="t" style="left:223.59px;top:199.65px;font-size:11.94px;font-weight:700;color:#cc2b35;-webkit-text-stroke:0.30px #cc2b35;transform:scaleX(1.1237)">49.2%</div>
<div class="t" style="left:223.59px;top:215.65px;font-size:11.94px;font-weight:700;color:#1667cb;-webkit-text-stroke:0.30px #1667cb;transform:scaleX(1.1237)">49.6%</div>
<div class="t" style="left:7.82px;top:232.12px;font-size:9.28px;font-weight:400;color:#484848;-webkit-text-stroke:0.25px #484848;transform:scaleX(1.0470)">Est.</div>
<div class="t" style="left:8.12px;top:244.14px;font-size:9.14px;font-weight:400;color:#484848;-webkit-text-stroke:0.25px #484848;transform:scaleX(1.0476)">Count</div>
<div class="t" style="left:74.33px;top:233.18px;font-size:8.86px;font-weight:400;color:#404040;-webkit-text-stroke:0.25px #404040;transform:scaleX(1.0517)">99%</div>
<div class="t" style="left:223.43px;top:233.18px;font-size:8.86px;font-weight:400;color:#404040;-webkit-text-stroke:0.25px #404040;transform:scaleX(1.0517)">99%</div>
<div class="t" style="left:8.60px;top:263.64px;font-size:11.04px;font-weight:400;color:#7d7d7d;-webkit-text-stroke:0.20px #7d7d7d;transform:scaleX(1.0092)">10:54 PM EST Nov. 6, 2020</div>
<div class="t" style="left:8.75px;top:313.11px;font-size:16.25px;font-weight:700;color:#333333;-webkit-text-stroke:0.30px #333333;transform:scaleX(1.1315)">Senate Results</div>
<div class="t" style="left:7.98px;top:336.97px;font-size:11.84px;font-weight:400;color:#333333;-webkit-text-stroke:0.20px #333333;transform:scaleX(1.1649)">Democratic</div>
<div class="t" style="left:8.53px;top:353.69px;font-size:22.57px;font-weight:700;color:#1667cb;-webkit-text-stroke:0.50px #1667cb;transform:scaleX(1.2104)">48</div>
<div class="t" style="left:188.75px;top:339.84px;font-size:11.25px;font-weight:700;color:#222;-webkit-text-stroke:0.30px #222;transform:scaleX(1.0827)">51</div>
<div class="t" style="left:315.18px;top:336.97px;font-size:11.84px;font-weight:400;color:#333333;-webkit-text-stroke:0.20px #333333;transform:scaleX(1.1585)">Republican</div>
<div class="t" style="left:353.43px;top:353.69px;font-size:22.57px;font-weight:700;color:#cc2b35;-webkit-text-stroke:0.50px #cc2b35;transform:scaleX(1.2104)">48</div>
<div class="t" style="left:430.82px;top:313.11px;font-size:16.25px;font-weight:700;color:#333333;-webkit-text-stroke:0.30px #333333;transform:scaleX(1.1282)">House Results</div>
<div class="t" style="left:430.77px;top:336.97px;font-size:11.84px;font-weight:400;color:#333333;-webkit-text-stroke:0.20px #333333;transform:scaleX(1.1769)">Democratic</div>
<div class="t" style="left:431.18px;top:353.69px;font-size:22.57px;font-weight:700;color:#1667cb;-webkit-text-stroke:0.50px #1667cb;transform:scaleX(1.2111)">212</div>
<div class="t" style="left:738.88px;top:336.97px;font-size:11.84px;font-weight:400;color:#333333;-webkit-text-stroke:0.20px #333333;transform:scaleX(1.1585)">Republican</div>
<div class="t" style="left:761.75px;top:353.69px;font-size:22.57px;font-weight:700;color:#cc2b35;-webkit-text-stroke:0.50px #cc2b35;transform:scaleX(1.2200)">194</div>
<div class="t" style="left:607.20px;top:339.98px;font-size:11.09px;font-weight:700;color:#222;-webkit-text-stroke:0.30px #222;transform:scaleX(1.2734)">218</div>
<div class="t" style="left:434.46px;top:39.89px;font-size:9.53px;font-weight:700;color:#333333;-webkit-text-stroke:0.30px #333333;transform:scaleX(1.1550)">Biden</div>
<div class="t" style="left:531.71px;top:39.79px;font-size:9.66px;font-weight:700;color:#333333;-webkit-text-stroke:0.30px #333333;transform:scaleX(1.1393)">Trump</div>
<div class="t" style="left:631.71px;top:39.89px;font-size:9.53px;font-weight:700;color:#333333;-webkit-text-stroke:0.30px #333333;transform:scaleX(1.1764)">Tied</div>
<div class="t" style="left:720.38px;top:39.79px;font-size:9.66px;font-weight:700;color:#333333;-webkit-text-stroke:0.30px #333333;transform:scaleX(1.0988)">In Progress</div>
<div class="t" style="left:547.6px;top:414.5px;font-size:16.6px;font-weight:700;color:#3a3a3a;-webkit-text-stroke:0.4px #3a3a3a;transform:scaleX(0.79)">ELECTIONS</div>
<div class="t" style="left:643.4px;top:414.5px;font-size:16.6px;font-weight:700;color:#3a3a3a;-webkit-text-stroke:0.4px #3a3a3a;transform:scaleX(0.9)">2020</div>
<div class="t" style="left:720.6px;top:416.3px;font-size:13.6px;font-weight:700;color:#222;transform:scaleX(1.0)">USA TODAY</div>
<div class="t" style="left:769.6px;top:397.3px;font-size:7.3px;font-weight:700;color:#fff;line-height:6.3px;transform:scaleX(1.03)">USA<br>TODAY</div>
</div></div>
</body></html>
